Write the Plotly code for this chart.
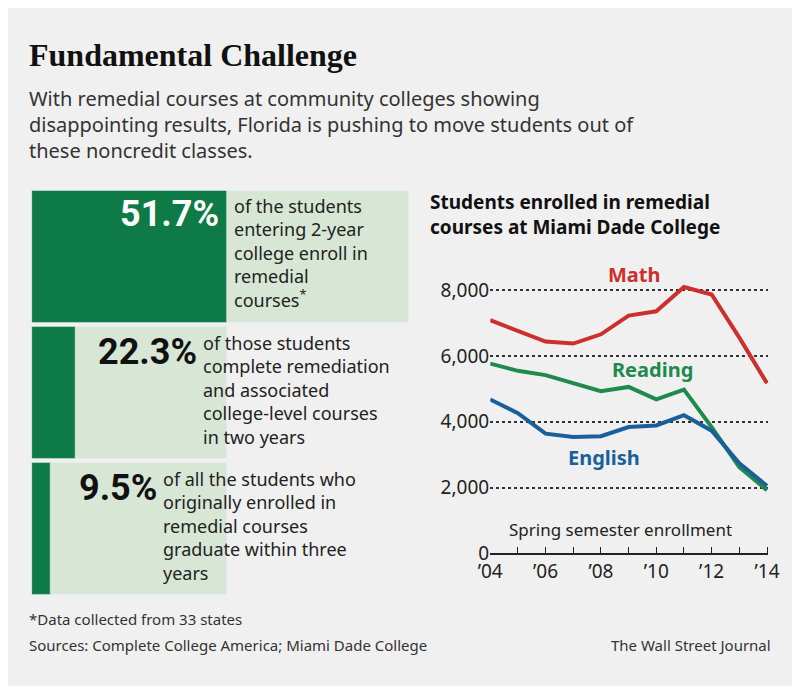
import plotly.graph_objects as go

# data
years = list(range(2004, 2015))
math = [7090, 6750, 6440, 6380, 6660, 7230, 7360, 8100, 7870, 6560, 5170]
reading = [5770, 5550, 5420, 5190, 4930, 5060, 4680, 4980, 3840, 2620, 1920]
english = [4680, 4260, 3640, 3540, 3560, 3840, 3890, 4200, 3730, 2740, 2050]
year_labels = ["’04", "", "’06", "", "’08", "", "’10", "", "’12", "", "’14"]
y_ticks = [0, 2000, 4000, 6000, 8000]

rows = ["r1", "r2", "r3"]
shares = [51.7, 22.3, 9.5]  # each as a share of the row above
share_texts = ["51.7%", "22.3%", "9.5%"]
share_descs = [
    "of the students<br>entering 2-year<br>college enroll in<br>remedial<br>courses<sup>*</sup>",
    "of those students<br>complete remediation<br>and associated<br>college-level courses<br>in two years",
    "of all the students who<br>originally enrolled in<br>remedial courses<br>graduate within three<br>years",
]

W, H = 784, 678
OFF = 8  # page body margin
BG = "#f0f0f0"
DARK = "#0e7a45"
LIGHT = "#d8e6d6"
FONT = "Noto Sans"

# bar lengths relative to the full first row
totals = [100, shares[0], shares[0]]
darks = [shares[0], shares[0] * shares[1] / 100, shares[0] * shares[2] / 100]

fig = go.Figure()
fig.add_trace(go.Bar(y=rows, x=totals, orientation="h", marker_color=LIGHT,
                     xaxis="x2", yaxis="y2", showlegend=False, hoverinfo="skip"))
fig.add_trace(go.Bar(y=rows, x=darks, orientation="h", marker_color=DARK,
                     xaxis="x2", yaxis="y2", showlegend=False, hoverinfo="skip"))

for name, vals, col in [("Math", math, "#cc2f2c"), ("Reading", reading, "#1e8a4d"),
                        ("English", english, "#1b5f9a")]:
    fig.add_trace(go.Scatter(x=years, y=vals, mode="lines", name=name,
                             line=dict(color=col, width=4), showlegend=False))

px = lambda v: (v - OFF) / W
py = lambda v: 1 - (v - OFF) / H

ann = []
def t(x, y, text, size=17, color="#222", bold=False, xanchor="left", yanchor="top",
      family=FONT, xref="paper", yref="paper"):
    if bold:
        text = "<b>" + text + "</b>"
    ann.append(dict(x=x, y=y, xref=xref, yref=yref, text=text, showarrow=False,
                    xanchor=xanchor, yanchor=yanchor, align="left",
                    font=dict(size=size, color=color, family=family)))

t(px(14), py(36), "Fundamental Challenge", size=32, bold=True, family="Liberation Serif", color="#111")
t(px(14), py(84), "With remedial courses at community colleges showing<br>"
  "disappointing results, Florida is pushing to move students out of<br>"
  "these noncredit classes.", size=20, color="#333")

# left panel texts
t(px(214), py(195), share_texts[0], size=36, bold=True, color="white", xanchor="right", family="Roboto")
t(px(226), py(196), share_descs[0], size=18)
t(px(192), py(335), share_texts[1], size=36, bold=True, color="#111", xanchor="right", family="Roboto")
t(px(194), py(335), share_descs[1], size=18)
t(px(150), py(474), share_texts[2], size=36, bold=True, color="#111", xanchor="right", family="Roboto")
t(px(152), py(474), share_descs[2], size=18)

# right panel
t(px(428), py(191), "Students enrolled in remedial<br>courses at Miami Dade College", size=19, bold=True, color="#111")
t(2009.2, 8480, "Math", size=20, bold=True, color="#cc2f2c", xanchor="center", yanchor="middle", xref="x", yref="y")
t(2009.85, 5580, "Reading", size=20, bold=True, color="#1e8a4d", xanchor="center", yanchor="middle", xref="x", yref="y")
t(2008.1, 2900, "English", size=20, bold=True, color="#1b5f9a", xanchor="center", yanchor="middle", xref="x", yref="y")
t(2008.7, 720, "Spring semester enrollment", size=17, color="#222", xanchor="center", yanchor="middle", xref="x", yref="y")

# footer
t(px(14), py(619), "*Data collected from 33 states", size=15, color="#333")
t(px(14), py(645), "Sources: Complete College America; Miami Dade College", size=15, color="#333")
t(px(784), py(645), "The Wall Street Journal", size=15, color="#333", xanchor="right")

fig.update_layout(
    width=W, height=H, margin=dict(l=0, r=0, t=0, b=0),
    paper_bgcolor=BG, plot_bgcolor=BG, barmode="overlay", bargap=0.03,
    annotations=ann, font=dict(family=FONT),
    xaxis2=dict(domain=[px(19), px(408)], range=[0, 100], visible=False, fixedrange=True),
    yaxis2=dict(domain=[py(608), py(192)], autorange="reversed", visible=False, anchor="x2"),
    xaxis=dict(domain=[px(492), px(779)], range=[2004, 2014.05], tickvals=years, ticktext=year_labels,
               ticks="inside", ticklen=7, tickcolor="#222", showline=True, linecolor="#222",
               linewidth=1.5, showgrid=False, zeroline=False,
               tickfont=dict(size=19, color="#222"), anchor="y"),
    yaxis=dict(domain=[py(564), py(279)], range=[0, 8500], tickvals=y_ticks,
               tickformat=",", showgrid=True, gridcolor="#333", griddash="dot", gridwidth=1.5,
               zeroline=False, showline=False, ticks="", tickfont=dict(size=19, color="#222"),
               anchor="x"),
)
fig.write_html("out.html")
